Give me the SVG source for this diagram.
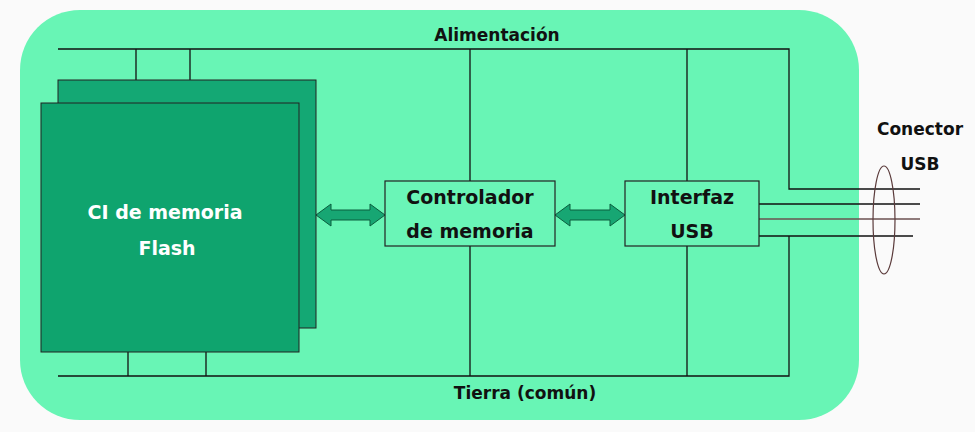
<svg xmlns="http://www.w3.org/2000/svg" width="975" height="432" viewBox="0 0 975 432">
<style>
.w{stroke:#111;stroke-width:1.3;fill:none}
.t{font-family:"DejaVu Sans",Verdana,sans-serif;font-weight:bold;font-size:17px;fill:#111;text-anchor:middle}
.b{font-size:19px}
.box{fill:#6af5b7;stroke:#222;stroke-width:1.2}
.arr{fill:#17a673;stroke:#0b5e3e;stroke-width:1}
</style>
<rect width="975" height="432" fill="#fafafa"/>
<rect x="20" y="10" width="839" height="410" rx="60" fill="#68f5b5"/>
<g id="connectors">
<path class="w" d="M58 49H789V189H920M136 49V80M190 49V80M470 49V181M470 246V376M687 49V181M687 246V376M58 376H789V236M128 352V376M206 352V376M759 204H920M759 236H913"/>
<path d="M759 219H920" stroke="#6b5050" stroke-width="1.3"/>
<polygon class="arr" points="316,215 331,204 331,210 370,210 370,204 385,215 370,226 370,220 331,220 331,226"/>
<polygon class="arr" points="555,215 570,204 570,210 610,210 610,204 625,215 610,226 610,220 570,220 570,226"/>
</g>
<text class="t" x="497" y="41">Alimentación</text>
<text class="t" x="525" y="399">Tierra (común)</text>
<g id="chip">
<rect x="58" y="80" width="258" height="248" fill="#14a874" stroke="#222" stroke-width="1"/>
<rect x="41" y="103" width="258" height="249" fill="#0fa46e" stroke="#222" stroke-width="1"/>
<text class="t b" x="165" y="219" style="fill:#fff">CI de memoria</text>
<text class="t b" x="167" y="255" style="fill:#fff">Flash</text>
</g>
<g id="controller">
<rect class="box" x="385" y="181" width="170" height="65"/>
<text class="t b" x="470" y="204">Controlador</text>
<text class="t b" x="470" y="238">de memoria</text>
</g>
<g id="usb">
<rect class="box" x="625" y="181" width="134" height="65"/>
<text class="t b" x="692" y="204">Interfaz</text>
<text class="t b" x="692" y="238">USB</text>
</g>
<g id="connector">
<ellipse cx="884" cy="220" rx="11" ry="54" fill="none" stroke="#5a3a3a" stroke-width="1.2"/>
<text class="t" x="920" y="135">Conector</text>
<text class="t" x="920" y="170">USB</text>
</g>
</svg>
